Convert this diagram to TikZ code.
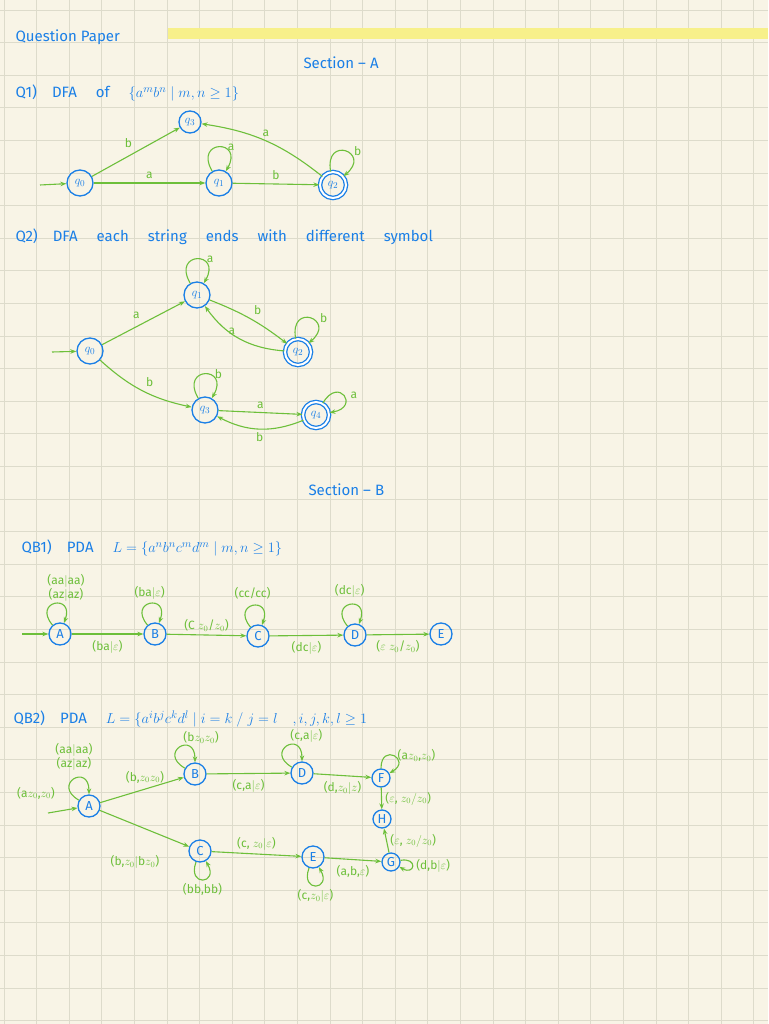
\documentclass[tikz,border=0pt]{standalone}
\usepackage{fontspec}
\setmainfont{Fira Sans}
\usetikzlibrary{arrows.meta}
\definecolor{paper}{HTML}{F8F4E6}
\definecolor{gridc}{HTML}{DDDBCB}
\definecolor{ink}{HTML}{1A7FE6}
\definecolor{grn}{HTML}{6DBF3A}
\definecolor{hl}{HTML}{F7F08A}
\tikzset{
 st/.style={circle,draw=ink,line width=1.3pt,minimum size=26pt,inner sep=0pt,text=ink,font=\fontsize{13}{15}\selectfont},
 fin/.style={st,double,double distance=2pt},
 tr/.style={draw=grn,line width=1.1pt,-{Stealth[length=6pt]}},
 lb/.style={text=grn,font=\fontsize{12}{14}\selectfont},
 bt/.style={text=ink,font=\fontsize{15}{17}\selectfont,anchor=west},
 lp/.style={tr,looseness=7},
}
\begin{document}
\begin{tikzpicture}[x=1pt,y=-1pt]
\fill[paper] (0,0) rectangle (768,1024);
\useasboundingbox (0,0) rectangle (768,1024);
\foreach \i in {0,...,24} {\draw[gridc,line width=0.8pt] (\i*32.6+4,0) -- (\i*32.6+4,1024);}
\foreach \i in {0,...,32} {\draw[gridc,line width=0.8pt] (0,\i*32.6+10) -- (768,\i*32.6+10);}
\fill[hl] (168,28) rectangle (768,39);
\node[bt] at (12,37) {Question Paper};
\node[bt] at (300,63) {Section -- A};
\node[bt] at (12,93) {Q1)\quad DFA \quad of \quad $\{a^m b^n \mid m,n \geq 1\}$};
% Q1
\node[st] (a0) at (80,183) {$q_0$};
\node[st] (a1) at (219,183) {$q_1$};
\node[fin] (a2) at (333,185) {$q_2$};
\node[st,minimum size=22pt] (a3) at (190,122) {$q_3$};
\coordinate (a0i) at (40,185);
\draw[tr] (a0i) -- (a0);
\draw[tr] (a0) -- node[lb,above left]{b} (a3);
\draw[tr] (a2) to[bend right=15] node[lb,above]{a} (a3);
\draw[tr] (a0) -- node[lb,above]{a} (a1);
\draw[tr] (a1) -- node[lb,above]{b} (a2);
\draw[lp] (a1) to[out=120,in=60] node[lb,right=5pt]{a} (a1);
\draw[lp] (a2) to[out=100,in=40] node[lb,right=5pt]{b} (a2);
% Q2
\node[bt] at (12,237) {Q2)\quad DFA \quad each \quad string \quad ends \quad with \quad different \quad symbol};
\node[st] (b0) at (90,351) {$q_0$};
\node[st] (b1) at (197,295) {$q_1$};
\node[fin] (b2) at (298,352) {$q_2$};
\node[st] (b3) at (205,410) {$q_3$};
\node[fin] (b4) at (316,415) {$q_4$};
\coordinate (b0i) at (52,352);
\draw[tr] (b0i) -- (b0);
\draw[tr] (b0) -- node[lb,above left]{a} (b1);
\draw[tr] (b0) to[bend right=15] node[lb,above right]{b} (b3);
\draw[tr] (b1) to[bend left=8] node[lb,above right]{b} (b2);
\draw[tr] (b2) to[bend left=25] node[lb,above left]{a} (b1);
\draw[tr] (b3) -- node[lb,above]{a} (b4);
\draw[tr] (b4) to[bend left=25] node[lb,below]{b} (b3);
\draw[lp] (b1) to[out=120,in=60] node[lb,right=6pt]{a} (b1);
\draw[lp] (b2) to[out=100,in=40] node[lb,right=6pt]{b} (b2);
\draw[lp] (b3) to[out=120,in=60] node[lb,right=6pt]{b} (b3);
\draw[lp] (b4) to[out=60,in=10] node[lb,right=3pt]{a} (b4);
% Section B
\node[bt] at (305,490) {Section -- B};
\node[bt] at (18,548) {QB1)\quad PDA \quad $L=\{a^n b^n c^m d^m \mid m,n \geq 1\}$};
\node[st,minimum size=22pt] (c1) at (60,634) {A};
\node[st,minimum size=22pt] (c2) at (155,634) {B};
\node[st,minimum size=22pt] (c3) at (258,636) {C};
\node[st,minimum size=22pt] (c4) at (355,635) {D};
\node[st,minimum size=22pt] (c5) at (441,634) {E};
\coordinate (c1i) at (22,634);
\draw[tr] (c1i) -- (c1);
\draw[tr] (c1) -- node[lb,below=2pt]{(ba$|\varepsilon$)} (c2);
\draw[tr] (c2) -- node[lb,above]{(C $z_0$/$z_0$)} (c3);
\draw[tr] (c3) -- node[lb,below=2pt]{(dc$|\varepsilon$)} (c4);
\draw[tr] (c4) -- node[lb,below=2pt]{($\varepsilon$ $z_0$/$z_0$)} (c5);
\draw[lp] (c1) to[out=130,in=70] (c1);
\node[lb,align=center] at (66,588) {(aa$|$aa)\\(az$|$az)};
\draw[lp] (c2) to[out=130,in=70] node[lb,above]{(ba$|\varepsilon$)} (c2);
\draw[lp] (c3) to[out=130,in=70] node[lb,above=3pt]{(cc/cc)} (c3);
\draw[lp] (c4) to[out=130,in=70] node[lb,above=3pt]{(dc$|\varepsilon$)} (c4);
% QB2
\node[bt] at (10,719) {QB2)\quad PDA \quad $L=\{a^i b^j c^k d^l \mid i=k \;/\; j=l \quad ,i,j,k,l\geq 1$};
\node[st,minimum size=22pt] (d1) at (89,806) {A};
\node[st,minimum size=22pt] (d2) at (195,774) {B};
\node[st,minimum size=22pt] (d3) at (302,773) {D};
\node[st,minimum size=18pt] (d4) at (381,778) {F};
\node[st,minimum size=18pt] (d5) at (382,819) {H};
\node[st,minimum size=18pt] (d6) at (391,862) {G};
\node[st,minimum size=22pt] (d7) at (200,851) {C};
\node[st,minimum size=22pt] (d8) at (313,857) {E};
\coordinate (d1i) at (48,813);
\draw[tr] (d1i) -- (d1);
\node[lb] at (36,793) {(a$z_0$,$z_0$)};
\draw[lp] (d1) to[out=150,in=90] (d1);
\node[lb,align=center] at (74,757) {(aa$|$aa)\\(az$|$az)};
\draw[tr] (d1) -- (d2);
\node[lb] at (145,777) {(b,$z_0z_0$)};
\draw[tr] (d1) -- (d7);
\node[lb] at (135,862) {(b,$z_0|$b$z_0$)};
\draw[tr] (d2) -- node[lb,below=2pt]{(c,a$|\varepsilon$)} (d3);
\draw[tr] (d3) -- node[lb,below=2pt]{(d,$z_0|z$)} (d4);
\draw[tr] (d4) -- node[lb,right]{($\varepsilon$, $z_0/z_0$)} (d5);
\draw[tr] (d6) -- node[lb,right]{($\varepsilon$, $z_0/z_0$)} (d5);
\draw[tr] (d7) -- node[lb,above]{(c, $z_0|\varepsilon$)} (d8);
\draw[tr] (d8) -- node[lb,below=2pt]{(a,b,$\varepsilon$)} (d6);
\draw[lp] (d2) to[out=150,in=90] node[lb,above right]{(b$z_0z_0$)} (d2);
\draw[lp] (d3) to[out=150,in=90] node[lb,above right]{(c,a$|\varepsilon$)} (d3);
\draw[lp] (d4) to[out=90,in=30] node[lb,right]{(a$z_0$,$z_0$)} (d4);
\draw[lp] (d6) to[out=10,in=-30] node[lb,right]{(d,b$|\varepsilon$)} (d6);
\draw[lp] (d7) to[out=-110,in=-60] node[lb,below]{(bb,bb)} (d7);
\draw[lp] (d8) to[out=-110,in=-60] node[lb,below]{(c,$z_0|\varepsilon$)} (d8);
\end{tikzpicture}
\end{document}
